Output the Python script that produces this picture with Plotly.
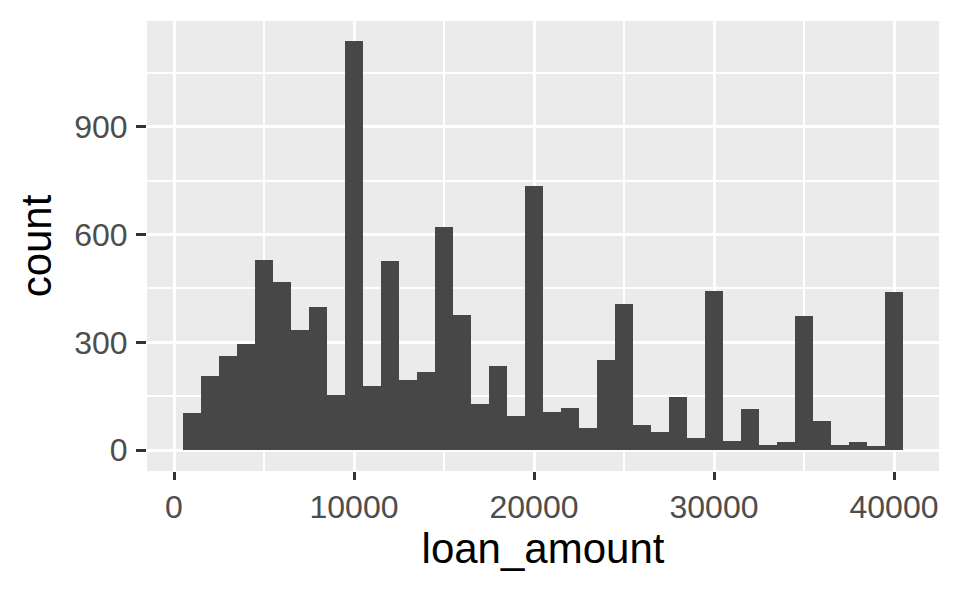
import plotly.graph_objects as go

bin_centers = [1000 * i for i in range(1, 41)]
counts = [102, 205, 263, 294, 528, 469, 335, 398, 152, 1138,
          179, 526, 196, 218, 620, 375, 129, 235, 96, 735,
          107, 118, 60, 252, 406, 69, 51, 149, 33, 444,
          26, 113, 13, 23, 372, 80, 13, 23, 10, 441]
bin_width = 1000
x_title = "loan_amount"
y_title = "count"

fig = go.Figure(go.Bar(
    x=bin_centers, y=counts, width=bin_width,
    marker=dict(color="#474747", line=dict(width=0)),
    hoverinfo="x+y"
))

tick_font = dict(family="Liberation Sans, Arial, sans-serif", size=32, color="#4D4D4D")
title_font = dict(family="Liberation Sans, Arial, sans-serif", size=42, color="#000000")

fig.update_layout(
    width=960, height=593,
    margin=dict(l=147, r=21, t=21, b=122, autoexpand=False),
    paper_bgcolor="white", plot_bgcolor="#EBEBEB",
    bargap=0, showlegend=False,
    xaxis=dict(
        range=[-1500, 42500], tick0=0, dtick=10000, tickformat="d",
        showgrid=True, gridcolor="white", gridwidth=3.2,
        minor=dict(tick0=5000, dtick=10000, showgrid=True, gridcolor="white", gridwidth=1.6, ticks=""),
        zeroline=False, showline=False,
        ticks="outside", ticklen=8, tickwidth=3, tickcolor="#333333",
        tickfont=tick_font,
        title=dict(text=x_title, font=title_font, standoff=6),
    ),
    yaxis=dict(
        range=[-58.5, 1195], tick0=0, dtick=300, tickformat="d",
        showgrid=True, gridcolor="white", gridwidth=3.2,
        minor=dict(tick0=150, dtick=300, showgrid=True, gridcolor="white", gridwidth=1.6, ticks=""),
        zeroline=False, showline=False,
        ticks="outside", ticklen=10, tickwidth=3, tickcolor="#333333",
        tickfont=tick_font, ticklabelstandoff=2,
        title=dict(text=y_title, font=title_font, standoff=9),
    ),
)

fig.write_html("out.html", config={"displayModeBar": False},
               post_script="document.body.style.margin='0';")
